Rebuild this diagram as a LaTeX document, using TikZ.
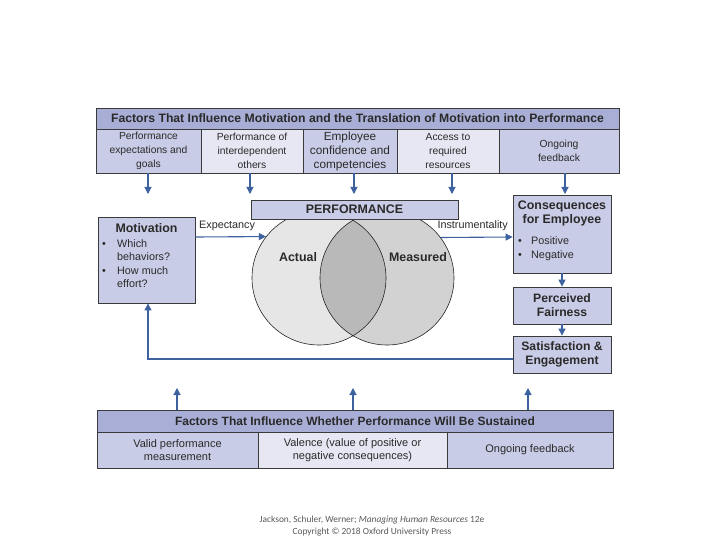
\documentclass[tikz,border=0pt]{standalone}
\usepackage{fontspec}
\setmainfont{Liberation Sans}
\newfontfamily\footfont{Carlito}
\usetikzlibrary{arrows.meta}
\definecolor{hdr}{HTML}{A9AED6}
\definecolor{mid}{HTML}{C9CCE6}
\definecolor{lite}{HTML}{E6E7F3}
\definecolor{arrc}{HTML}{3E62A0}
\definecolor{edgec}{HTML}{3A3A3A}
\definecolor{txt}{HTML}{2A2A2A}
\definecolor{circA}{HTML}{E6E6E6}
\definecolor{circM}{HTML}{D2D2D2}
\definecolor{circI}{HTML}{B9B9B9}
\begin{document}
\begin{tikzpicture}[x=1pt,y=-1pt,
  cell/.style={draw=edgec,line width=0.8pt,inner sep=0pt,align=center,text=txt,font=\fontsize{10.3}{14}\selectfont},
  hdrbox/.style={cell,fill=hdr,font=\bfseries\fontsize{12.2}{14}\selectfont},
  sbox/.style={draw=edgec,line width=0.8pt,fill=mid,inner sep=0pt,text=txt},
  bold/.style={font=\bfseries\fontsize{12.4}{14}\selectfont,text=txt,align=center,inner sep=0pt},
  arr/.style={draw=arrc,line width=1.1pt,-{Triangle[length=7pt,width=7pt]}},
  lbl/.style={text=txt,font=\fontsize{10.8}{13.5}\selectfont,inner sep=0pt}]
\useasboundingbox (0,0) rectangle (720,540);
\fill[white] (0,0) rectangle (720,540);

% ---- top box
\node[hdrbox,minimum width=523,minimum height=21] (top) at (357.5,118.5)
  {Factors That Influence Motivation and the Translation of Motivation into Performance};
\node[cell,fill=mid,minimum width=105,minimum height=44] (c1) at (148.5,151) {Performance\\expectations and\\goals};
\node[cell,fill=lite,minimum width=102,minimum height=44] (c2) at (252,151) {Performance of\\interdependent\\others};
\node[cell,fill=mid,minimum width=94,minimum height=44,font=\fontsize{11.8}{14}\selectfont] (c3) at (350,151) {Employee\\confidence and\\competencies};
\node[cell,fill=lite,minimum width=102,minimum height=44] (c4) at (448,151) {Access to\\required\\resources};
\node[cell,fill=mid,minimum width=120,minimum height=44] (c5) at (559,151) {Ongoing\\feedback};

% ---- circles
\fill[circA] (319,278) circle (67);
\fill[circM] (387,278) circle (67);
\begin{scope}
  \clip (319,278) circle (67);
  \fill[circI] (387,278) circle (67);
\end{scope}
\node[circle,draw=black!85,line width=0.6pt,minimum size=134,inner sep=0pt] (act) at (319,278) {};
\node[circle,draw=black!85,line width=0.6pt,minimum size=134,inner sep=0pt] (mea) at (387,278) {};
\node[bold] (actl) at (298,257) {Actual};
\node[bold] (meal) at (418,257) {Measured};

% ---- performance box
\node[sbox,minimum width=207,minimum height=19,font=\bfseries\fontsize{12.4}{14}\selectfont] (perf) at (354.5,209.5) {PERFORMANCE};

% ---- motivation box
\node[sbox,minimum width=97,minimum height=86] (mot) at (146.5,260) {};
\node[bold] (motT) at (146.5,228) {Motivation};
\node[lbl,anchor=north west,align=left] (motB) at (102,239)
  {\makebox[15pt][l]{•}Which\\\makebox[15pt][l]{}behaviors?\\\makebox[15pt][l]{•}How much\\\makebox[15pt][l]{}effort?};

% ---- consequences
\node[sbox,minimum width=98,minimum height=78] (cons) at (562,234) {};
\node[bold] (consT) at (562,213) {Consequences\\for Employee};
\node[lbl,anchor=north west,align=left,font=\fontsize{10.8}{14}\selectfont] (consB) at (518,236)
  {\makebox[13pt][l]{•}Positive\\\makebox[13pt][l]{•}Negative};
\node[sbox,minimum width=98,minimum height=37,align=center,font=\bfseries\fontsize{12.2}{14}\selectfont] (fair) at (562,305.5) {Perceived\\Fairness};
\node[sbox,minimum width=98,minimum height=37,align=center,font=\bfseries\fontsize{12.2}{14}\selectfont] (sat) at (562,354.5) {Satisfaction \&\\Engagement};

% ---- bottom box
\node[hdrbox,minimum width=516,minimum height=22,font=\bfseries\fontsize{12}{14}\selectfont] (bot) at (355,421)
  {Factors That Influence Whether Performance Will Be Sustained};
\node[cell,fill=mid,minimum width=161,minimum height=36,font=\fontsize{11}{13}\selectfont] (b1) at (177.5,450) {Valid performance\\measurement};
\node[cell,fill=lite,minimum width=189,minimum height=36,font=\fontsize{11}{13}\selectfont] (b2) at (352.5,450) {Valence (value of positive or\\negative consequences)};
\node[cell,fill=mid,minimum width=166,minimum height=36,font=\fontsize{11}{13}\selectfont] (b3) at (530,450) {Ongoing feedback};

% ---- arrows from top
\coordinate (t1) at (148,194);
\draw[arr] (c1.south -| t1) -- (t1);
\draw[arr] (c2.south -| 250,0) -- (250,194);
\draw[arr] (c3.south -| 354,0) -- (354,194);
\draw[arr] (c4.south -| 452,0) -- (452,194);
\draw[arr] (c5.south -| 565,0) -- (565,194);

% ---- expectancy / instrumentality
\draw[arr] (mot.east |- 0,237) -- (act.142.3);
\node[lbl,anchor=south west] (expl) at (199,231) {Expectancy};
\draw[arr] (mea.37.7) -- (cons.west |- 0,237);
\node[lbl,anchor=south east] (insl) at (508,231) {Instrumentality};

% ---- chain
\draw[arr] (cons.south) -- (fair.north);
\draw[arr] (fair.south) -- (sat.north);
\draw[arr] (sat.west |- 0,359) -- (148,359) -- (mot.south -| 148,0);

% ---- arrows from bottom
\draw[arr] (bot.north -| 177,0) -- (177,388);
\draw[arr] (bot.north -| 353,0) -- (353,388);
\draw[arr] (bot.north -| 528,0) -- (528,388);

% ---- footer
\node[font=\footfont\fontsize{9.4}{12}\selectfont,text=black!65,align=center] (foot) at (372,526)
  {Jackson, Schuler, Werner; \textit{Managing Human Resources} 12e\\Copyright © 2018 Oxford University Press};
\end{tikzpicture}
\end{document}
